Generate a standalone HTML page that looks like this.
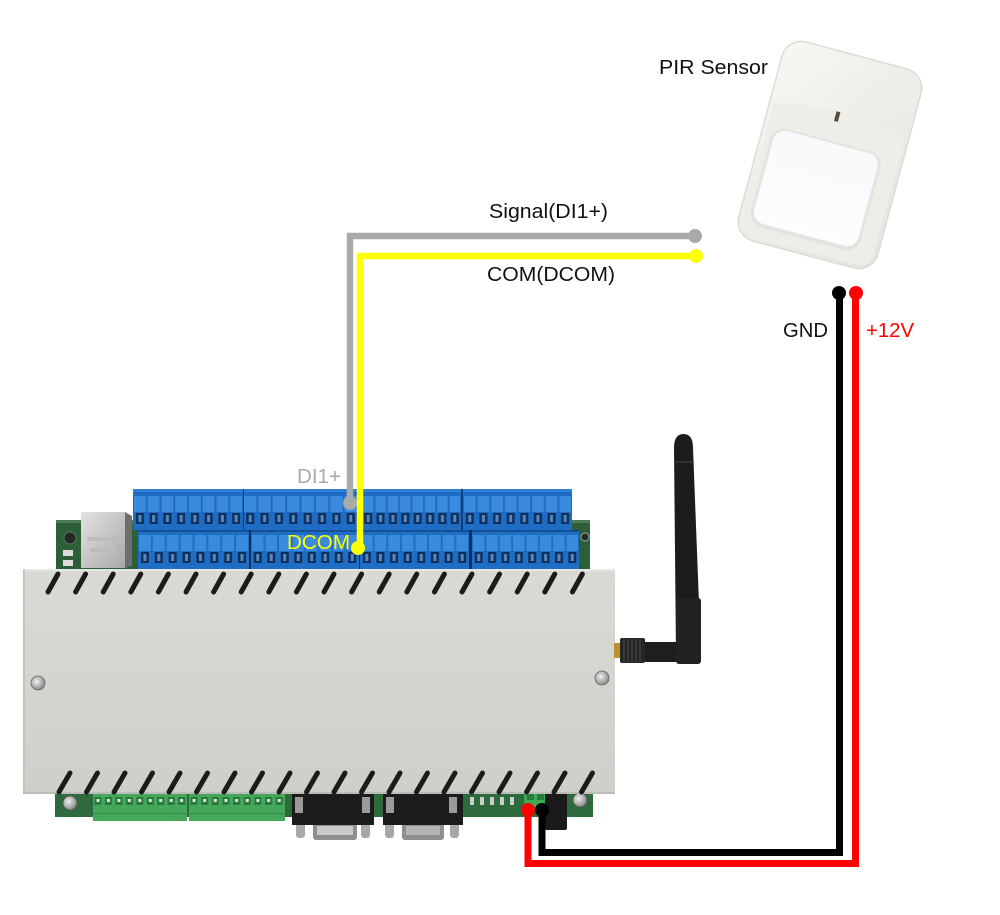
<!DOCTYPE html>
<html>
<head>
<meta charset="utf-8">
<style>
html,body{margin:0;padding:0;background:#fff;}
svg{display:block;}
text{font-family:"Liberation Sans",Arial,sans-serif;}
</style>
</head>
<body>
<svg width="1000" height="915" viewBox="0 0 1000 915" xmlns="http://www.w3.org/2000/svg">
<defs>
  <linearGradient id="box" x1="0" y1="0" x2="0" y2="1">
    <stop offset="0" stop-color="#dadad5"/>
    <stop offset="0.5" stop-color="#d5d5d0"/>
    <stop offset="1" stop-color="#cfcfca"/>
  </linearGradient>
  <linearGradient id="silver" x1="0" y1="0" x2="1" y2="1">
    <stop offset="0" stop-color="#e2e2e2"/>
    <stop offset="1" stop-color="#a9a9a9"/>
  </linearGradient>
  <linearGradient id="body" x1="0" y1="0" x2="1" y2="1">
    <stop offset="0" stop-color="#f7f7f3"/>
    <stop offset="1" stop-color="#e4e4de"/>
  </linearGradient>
  <linearGradient id="lens" x1="0" y1="0" x2="0" y2="1">
    <stop offset="0" stop-color="#f8f9fb"/>
    <stop offset="1" stop-color="#fdfdfe"/>
  </linearGradient>
  <radialGradient id="screw" cx="0.4" cy="0.4" r="0.6">
    <stop offset="0" stop-color="#f0f0f0"/>
    <stop offset="1" stop-color="#8a8a8a"/>
  </radialGradient>

  <!-- upper row terminal patterns -->
  <pattern id="u1" x="133" y="489" width="13.75" height="41" patternUnits="userSpaceOnUse">
    <rect x="1" y="7" width="11.75" height="16" fill="#3a8ade"/>
    <rect x="2.9" y="24" width="8" height="11" fill="#0f2f5c"/>
    <rect x="5.4" y="26" width="3" height="7" fill="#5688c0"/>
  </pattern>
  <pattern id="u2" x="243" y="489" width="14.375" height="41" patternUnits="userSpaceOnUse">
    <rect x="1" y="7" width="12.375" height="16" fill="#3a8ade"/>
    <rect x="3.2" y="24" width="8" height="11" fill="#0f2f5c"/>
    <rect x="5.7" y="26" width="3" height="7" fill="#5688c0"/>
  </pattern>
  <pattern id="u3" x="362" y="489" width="12.375" height="41" patternUnits="userSpaceOnUse">
    <rect x="1" y="7" width="10.375" height="16" fill="#3a8ade"/>
    <rect x="2.2" y="24" width="8" height="11" fill="#0f2f5c"/>
    <rect x="4.7" y="26" width="3" height="7" fill="#5688c0"/>
  </pattern>
  <pattern id="u4" x="463" y="489" width="13.625" height="41" patternUnits="userSpaceOnUse">
    <rect x="1" y="7" width="11.625" height="16" fill="#3a8ade"/>
    <rect x="2.8" y="24" width="8" height="11" fill="#0f2f5c"/>
    <rect x="5.3" y="26" width="3" height="7" fill="#5688c0"/>
  </pattern>
  <!-- lower row terminal patterns -->
  <pattern id="c1" x="138" y="530" width="13.875" height="39" patternUnits="userSpaceOnUse">
    <rect x="1" y="5" width="11.875" height="16" fill="#3a8ade"/>
    <rect x="2.9" y="22" width="8" height="11" fill="#0f2f5c"/>
    <rect x="5.4" y="24" width="3" height="7" fill="#5688c0"/>
  </pattern>
  <pattern id="c2" x="251" y="530" width="13.5" height="39" patternUnits="userSpaceOnUse">
    <rect x="1" y="5" width="11.5" height="16" fill="#3a8ade"/>
    <rect x="2.75" y="22" width="8" height="11" fill="#0f2f5c"/>
    <rect x="5.25" y="24" width="3" height="7" fill="#5688c0"/>
  </pattern>
  <pattern id="c3" x="360" y="530" width="13.625" height="39" patternUnits="userSpaceOnUse">
    <rect x="1" y="5" width="11.625" height="16" fill="#3a8ade"/>
    <rect x="2.8" y="22" width="8" height="11" fill="#0f2f5c"/>
    <rect x="5.3" y="24" width="3" height="7" fill="#5688c0"/>
  </pattern>
  <pattern id="c4" x="472" y="530" width="13.375" height="39" patternUnits="userSpaceOnUse">
    <rect x="1" y="5" width="11.375" height="16" fill="#3a8ade"/>
    <rect x="2.7" y="22" width="8" height="11" fill="#0f2f5c"/>
    <rect x="5.2" y="24" width="3" height="7" fill="#5688c0"/>
  </pattern>
  <!-- green terminal pattern -->
  <pattern id="g1" x="93" y="794" width="10.45" height="27" patternUnits="userSpaceOnUse">
    <rect x="1.5" y="3" width="7" height="8" fill="#2b7a3d"/>
    <rect x="3.5" y="5" width="3" height="3" fill="#d8e8d8"/>
  </pattern>
  <pattern id="g2" x="189" y="794" width="10.65" height="27" patternUnits="userSpaceOnUse">
    <rect x="1.5" y="3" width="7" height="8" fill="#2b7a3d"/>
    <rect x="3.5" y="5" width="3" height="3" fill="#d8e8d8"/>
  </pattern>
</defs>

<!-- ================= DEVICE ================= -->
<!-- top PCB -->
<rect x="56" y="520" width="534" height="50" fill="#2c5e38"/>
<rect x="56" y="520" width="534" height="3" fill="#4d7a57"/>
<circle cx="70" cy="538" r="6" fill="#1e2a22" stroke="#5c7a62" stroke-width="1"/>
<rect x="63" y="550" width="10" height="6" fill="#ddd"/>
<rect x="63" y="560" width="10" height="6" fill="#ddd"/>
<circle cx="585" cy="537" r="4" fill="#1e2a22" stroke="#9aa" stroke-width="1"/>
<!-- ethernet jack -->
<rect x="81" y="512" width="44" height="56" fill="url(#silver)"/>
<polygon points="125,512 132,516 132,566 125,568" fill="#6e6e6e"/>
<rect x="87" y="537" width="32" height="4" fill="#bdbdbd"/>
<rect x="90" y="548" width="26" height="4" fill="#bdbdbd"/>

<!-- upper blue row -->
<g>
  <rect x="133" y="489" width="110" height="41" fill="#1e6cc3"/>
  <rect x="243" y="489" width="115" height="41" fill="#1e6cc3"/>
  <rect x="362" y="489" width="99" height="41" fill="#1e6cc3"/>
  <rect x="463" y="489" width="109" height="41" fill="#1e6cc3"/>
  <rect x="133" y="489" width="110" height="41" fill="url(#u1)"/>
  <rect x="243" y="489" width="115" height="41" fill="url(#u2)"/>
  <rect x="362" y="489" width="99" height="41" fill="url(#u3)"/>
  <rect x="463" y="489" width="109" height="41" fill="url(#u4)"/>
  <rect x="133" y="489" width="439" height="3" fill="#2f80d4"/>
  <rect x="243" y="489" width="1" height="41" fill="#0e3f7c"/>
  <rect x="358" y="489" width="4" height="41" fill="#0e2f5c"/>
  <rect x="461" y="489" width="2" height="41" fill="#0e3f7c"/>
</g>
<!-- lower blue row -->
<g>
  <rect x="138" y="530" width="111" height="39" fill="#1f6ec6"/>
  <rect x="251" y="530" width="108" height="39" fill="#1f6ec6"/>
  <rect x="360" y="530" width="109" height="39" fill="#1f6ec6"/>
  <rect x="472" y="530" width="107" height="39" fill="#1f6ec6"/>
  <rect x="138" y="530" width="111" height="39" fill="url(#c1)"/>
  <rect x="251" y="530" width="108" height="39" fill="url(#c2)"/>
  <rect x="360" y="530" width="109" height="39" fill="url(#c3)"/>
  <rect x="472" y="530" width="107" height="39" fill="url(#c4)"/>
  <rect x="138" y="530" width="441" height="2" fill="#154f96"/>
  <rect x="249" y="530" width="2" height="39" fill="#0e2f5c"/>
  <rect x="359" y="530" width="1" height="39" fill="#0e2f5c"/>
  <rect x="469" y="530" width="3" height="39" fill="#0e2f5c"/>
</g>

<!-- bottom PCB -->
<rect x="55" y="788" width="538" height="29" fill="#2d6a3c"/>
<circle cx="70" cy="803" r="7" fill="url(#screw)" stroke="#555" stroke-width="0.8"/>
<circle cx="580" cy="800" r="7" fill="url(#screw)" stroke="#555" stroke-width="0.8"/>
<!-- green terminals -->
<rect x="93" y="794" width="94" height="27" fill="#44a75a"/>
<rect x="189" y="794" width="96" height="27" fill="#44a75a"/>
<rect x="93" y="794" width="94" height="27" fill="url(#g1)"/>
<rect x="189" y="794" width="96" height="27" fill="url(#g2)"/>
<rect x="93" y="813" width="192" height="1" fill="#348a48"/>
<!-- DB9 #1 -->
<rect x="296" y="820" width="9" height="18" rx="3" fill="#a8a8a8"/>
<rect x="361" y="820" width="9" height="18" rx="3" fill="#a8a8a8"/>
<rect x="313" y="820" width="44" height="20" rx="3" fill="#8f8f8f"/>
<rect x="317" y="826" width="36" height="9" fill="#c9c9c9"/>
<rect x="292" y="793" width="82" height="32" fill="#1c1c1c"/>
<rect x="295" y="797" width="8" height="16" fill="#9a9a9a"/>
<rect x="362" y="797" width="8" height="16" fill="#9a9a9a"/>
<!-- DB9 #2 -->
<rect x="385" y="820" width="9" height="18" rx="3" fill="#a8a8a8"/>
<rect x="450" y="820" width="9" height="18" rx="3" fill="#a8a8a8"/>
<rect x="402" y="820" width="42" height="20" rx="3" fill="#8f8f8f"/>
<rect x="406" y="826" width="34" height="9" fill="#b5b5b5"/>
<rect x="383" y="793" width="80" height="32" fill="#1c1c1c"/>
<rect x="386" y="797" width="8" height="16" fill="#9a9a9a"/>
<rect x="449" y="797" width="8" height="16" fill="#9a9a9a"/>
<!-- small parts -->
<rect x="470" y="797" width="4" height="8" fill="#ccc"/>
<rect x="480" y="797" width="4" height="8" fill="#ccc"/>
<rect x="490" y="797" width="4" height="8" fill="#ccc"/>
<rect x="500" y="797" width="4" height="8" fill="#ccc"/>
<rect x="510" y="797" width="4" height="8" fill="#ccc"/>
<rect x="524" y="792" width="24" height="16" fill="#3faa55"/>
<rect x="527" y="794" width="7" height="6" fill="#2b7a3d"/>
<rect x="537" y="794" width="7" height="6" fill="#2b7a3d"/>
<rect x="545" y="792" width="22" height="38" rx="2" fill="#1a1a1a"/>

<!-- gray box -->
<rect x="23" y="569" width="592" height="225" fill="url(#box)"/>
<rect x="23" y="569" width="592" height="2" fill="#e6e6e2"/>
<rect x="23" y="569" width="2" height="225" fill="#c4c4bf"/>
<rect x="23" y="792" width="592" height="2" fill="#bdbdb8"/>
<!-- top slots -->
<g stroke="#1b1b1b" stroke-width="5" stroke-linecap="round">
  <line x1="58" y1="574" x2="48" y2="592"/>
  <line x1="85.6" y1="574" x2="75.6" y2="592"/>
  <line x1="113.2" y1="574" x2="103.2" y2="592"/>
  <line x1="140.8" y1="574" x2="130.8" y2="592"/>
  <line x1="168.4" y1="574" x2="158.4" y2="592"/>
  <line x1="196" y1="574" x2="186" y2="592"/>
  <line x1="223.6" y1="574" x2="213.6" y2="592"/>
  <line x1="251.2" y1="574" x2="241.2" y2="592"/>
  <line x1="278.8" y1="574" x2="268.8" y2="592"/>
  <line x1="306.4" y1="574" x2="296.4" y2="592"/>
  <line x1="334" y1="574" x2="324" y2="592"/>
  <line x1="361.6" y1="574" x2="351.6" y2="592"/>
  <line x1="389.2" y1="574" x2="379.2" y2="592"/>
  <line x1="416.8" y1="574" x2="406.8" y2="592"/>
  <line x1="444.4" y1="574" x2="434.4" y2="592"/>
  <line x1="472" y1="574" x2="462" y2="592"/>
  <line x1="499.6" y1="574" x2="489.6" y2="592"/>
  <line x1="527.2" y1="574" x2="517.2" y2="592"/>
  <line x1="554.8" y1="574" x2="544.8" y2="592"/>
  <line x1="582.4" y1="574" x2="572.4" y2="592"/>
</g>
<!-- bottom slots -->
<g stroke="#1b1b1b" stroke-width="5" stroke-linecap="round">
  <line x1="70" y1="773" x2="59" y2="792"/>
  <line x1="97.5" y1="773" x2="86.5" y2="792"/>
  <line x1="125" y1="773" x2="114" y2="792"/>
  <line x1="152.5" y1="773" x2="141.5" y2="792"/>
  <line x1="180" y1="773" x2="169" y2="792"/>
  <line x1="207.5" y1="773" x2="196.5" y2="792"/>
  <line x1="235" y1="773" x2="224" y2="792"/>
  <line x1="262.5" y1="773" x2="251.5" y2="792"/>
  <line x1="290" y1="773" x2="279" y2="792"/>
  <line x1="317.5" y1="773" x2="306.5" y2="792"/>
  <line x1="345" y1="773" x2="334" y2="792"/>
  <line x1="372.5" y1="773" x2="361.5" y2="792"/>
  <line x1="400" y1="773" x2="389" y2="792"/>
  <line x1="427.5" y1="773" x2="416.5" y2="792"/>
  <line x1="455" y1="773" x2="444" y2="792"/>
  <line x1="482.5" y1="773" x2="471.5" y2="792"/>
  <line x1="510" y1="773" x2="499" y2="792"/>
  <line x1="537.5" y1="773" x2="526.5" y2="792"/>
  <line x1="565" y1="773" x2="554" y2="792"/>
  <line x1="592.5" y1="773" x2="581.5" y2="792"/>
</g>
<!-- box screws -->
<circle cx="38" cy="683" r="7" fill="url(#screw)" stroke="#666" stroke-width="0.8"/>
<circle cx="602" cy="678" r="7" fill="url(#screw)" stroke="#666" stroke-width="0.8"/>

<!-- antenna -->
<rect x="614" y="643" width="7" height="15" fill="#b8922e"/>
<rect x="620" y="638" width="25" height="25" rx="2" fill="#262626"/>
<g stroke="#4a4a4a" stroke-width="1">
  <line x1="624" y1="639" x2="624" y2="662"/>
  <line x1="628" y1="639" x2="628" y2="662"/>
  <line x1="632" y1="639" x2="632" y2="662"/>
  <line x1="636" y1="639" x2="636" y2="662"/>
  <line x1="640" y1="639" x2="640" y2="662"/>
</g>
<rect x="645" y="642" width="34" height="20" fill="#1e1e1e"/>
<path d="M674,448 Q674,434 683.5,434 Q693,434 693,448 L701,655 Q701,664 693,664 L683,664 Q676,664 676,655 Z" fill="#1c1c1c"/>
<rect x="676" y="598" width="25" height="66" rx="3" fill="#222"/>
<line x1="675" y1="462" x2="694" y2="462" stroke="#444" stroke-width="1"/>

<!-- ================= WIRES ================= -->
<path d="M350,503 V236 H695" fill="none" stroke="#aaaaaa" stroke-width="6.5"/>
<circle cx="350" cy="503" r="7" fill="#aaaaaa"/>
<circle cx="695" cy="236" r="7" fill="#aaaaaa"/>
<path d="M360,548 V256 H696" fill="none" stroke="#ffff00" stroke-width="6.5"/>
<circle cx="358" cy="548" r="7" fill="#ffff00"/>
<circle cx="696" cy="256" r="7" fill="#ffff00"/>

<path d="M528,810 V863.5 H855.5 V293" fill="none" stroke="#ff0000" stroke-width="7"/>
<path d="M542,810 V852.5 H839.5 V293" fill="none" stroke="#000000" stroke-width="7"/>
<circle cx="528" cy="810" r="7" fill="#ff0000"/>
<circle cx="542" cy="810" r="7" fill="#000"/>
<circle cx="839" cy="293" r="7" fill="#000"/>
<circle cx="856" cy="293" r="7" fill="#ff0000"/>

<!-- ================= PIR SENSOR ================= -->
<g transform="rotate(15 830 155)">
  <rect x="758" y="52" width="144" height="206" rx="20" fill="url(#body)" stroke="#dcdcd6" stroke-width="1.5"/>
  <path d="M762,120 Q830,100 898,120 L898,240 Q898,254 884,254 L776,254 Q762,254 762,240 Z" fill="#eeeee9"/>
  <rect x="768" y="141" width="114" height="102" rx="14" fill="#e3e3df"/>
  <rect x="771" y="143" width="108" height="96" rx="12" fill="url(#lens)"/>
  <rect x="825" y="111" width="4" height="10" fill="#5a4a40"/>
</g>

<!-- ================= LABELS ================= -->
<text x="659" y="74" font-size="20.5" fill="#111" textLength="109" lengthAdjust="spacingAndGlyphs">PIR Sensor</text>
<text x="489" y="218" font-size="20.5" fill="#111" textLength="119" lengthAdjust="spacingAndGlyphs">Signal(DI1+)</text>
<text x="487" y="281" font-size="20.5" fill="#111" textLength="128" lengthAdjust="spacingAndGlyphs">COM(DCOM)</text>
<text x="783" y="337" font-size="20" fill="#111" textLength="45" lengthAdjust="spacingAndGlyphs">GND</text>
<text x="866" y="337" font-size="20" fill="#ff0000" textLength="48" lengthAdjust="spacingAndGlyphs">+12V</text>
<text x="297" y="483" font-size="20" fill="#aaaaaa" textLength="44" lengthAdjust="spacingAndGlyphs">DI1+</text>
<text x="287" y="549" font-size="20" fill="#ffff00" textLength="63" lengthAdjust="spacingAndGlyphs">DCOM</text>
</svg>
</body>
</html>
